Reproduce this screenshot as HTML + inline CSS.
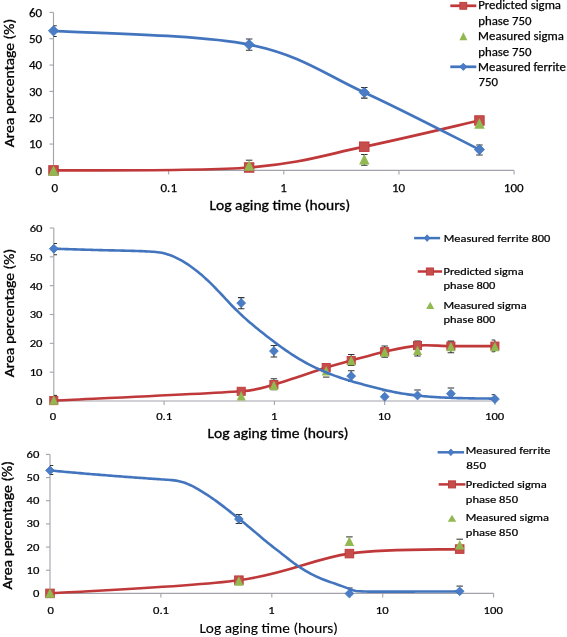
<!DOCTYPE html>
<html><head><meta charset="utf-8"><title>Area percentage vs log aging time</title>
<style>html,body{margin:0;padding:0;background:#fff;}svg{display:block;}</style></head>
<body>
<svg width="567" height="637" viewBox="0 0 567 637" font-family="Carlito, 'Liberation Sans', sans-serif" fill="#000">
<rect width="567" height="637" fill="#fff"/>
<path d="M53.50,12.40 V170.40 H514.10" stroke="#a2a2ac" stroke-width="1.1" fill="none"/>
<path d="M49.50,170.40 H53.50" stroke="#a2a2ac" stroke-width="1.1"/>
<text x="35.56" y="174.62" font-size="13" textLength="6.59" lengthAdjust="spacingAndGlyphs" stroke="#000" stroke-width="0.25">0</text>
<path d="M49.50,144.07 H53.50" stroke="#a2a2ac" stroke-width="1.1"/>
<text x="28.93" y="148.29" font-size="13" textLength="13.18" lengthAdjust="spacingAndGlyphs" stroke="#000" stroke-width="0.25">10</text>
<path d="M49.50,117.73 H53.50" stroke="#a2a2ac" stroke-width="1.1"/>
<text x="28.93" y="121.96" font-size="13" textLength="13.18" lengthAdjust="spacingAndGlyphs" stroke="#000" stroke-width="0.25">20</text>
<path d="M49.50,91.40 H53.50" stroke="#a2a2ac" stroke-width="1.1"/>
<text x="28.93" y="95.62" font-size="13" textLength="13.18" lengthAdjust="spacingAndGlyphs" stroke="#000" stroke-width="0.25">30</text>
<path d="M49.50,65.07 H53.50" stroke="#a2a2ac" stroke-width="1.1"/>
<text x="28.93" y="69.29" font-size="13" textLength="13.18" lengthAdjust="spacingAndGlyphs" stroke="#000" stroke-width="0.25">40</text>
<path d="M49.50,38.73 H53.50" stroke="#a2a2ac" stroke-width="1.1"/>
<text x="28.93" y="42.96" font-size="13" textLength="13.18" lengthAdjust="spacingAndGlyphs" stroke="#000" stroke-width="0.25">50</text>
<path d="M49.50,12.40 H53.50" stroke="#a2a2ac" stroke-width="1.1"/>
<text x="28.93" y="16.63" font-size="13" textLength="13.18" lengthAdjust="spacingAndGlyphs" stroke="#000" stroke-width="0.25">60</text>
<path d="M53.50,170.40 V174.40" stroke="#a2a2ac" stroke-width="1.1"/>
<text x="51.48" y="191.60" font-size="13" textLength="6.59" lengthAdjust="spacingAndGlyphs" stroke="#000" stroke-width="0.25">0</text>
<path d="M168.65,170.40 V174.40" stroke="#a2a2ac" stroke-width="1.1"/>
<text x="160.53" y="191.60" font-size="13" textLength="16.46" lengthAdjust="spacingAndGlyphs" stroke="#000" stroke-width="0.25">0.1</text>
<path d="M283.80,170.40 V174.40" stroke="#a2a2ac" stroke-width="1.1"/>
<text x="280.23" y="191.60" font-size="13" textLength="6.59" lengthAdjust="spacingAndGlyphs" stroke="#000" stroke-width="0.25">1</text>
<path d="M398.95,170.40 V174.40" stroke="#a2a2ac" stroke-width="1.1"/>
<text x="391.93" y="191.60" font-size="13" textLength="13.18" lengthAdjust="spacingAndGlyphs" stroke="#000" stroke-width="0.25">10</text>
<path d="M514.10,170.40 V174.40" stroke="#a2a2ac" stroke-width="1.1"/>
<text x="503.83" y="191.60" font-size="13" textLength="19.77" lengthAdjust="spacingAndGlyphs" stroke="#000" stroke-width="0.25">100</text>
<text x="209.41" y="209.50" font-size="15" textLength="140.72" lengthAdjust="spacingAndGlyphs" stroke="#000" stroke-width="0.3">Log aging time (hours)</text>
<text transform="translate(14.30,147.16) rotate(-90)" x="0" y="0" font-size="15" textLength="128.30" lengthAdjust="spacingAndGlyphs" stroke="#000" stroke-width="0.3">Area percentage (%)</text>
<path d="M53.50,170.40 C86.11,169.92 197.34,171.45 249.14,167.50 C300.93,163.55 325.90,154.53 364.29,146.70 C402.67,138.87 460.24,124.87 479.44,120.50" stroke="#c0393a" stroke-width="2.75" fill="none"/>
<path d="M53.50,25.70 H56.75 M53.50,36.50 H56.75 " stroke="#333" stroke-width="1.05" fill="none"/>
<path d="M245.89,39.00 H252.39 M245.89,50.30 H252.39 M249.14,39.00 V50.30" stroke="#333" stroke-width="1.05" fill="none"/>
<path d="M361.04,87.50 H367.54 M361.04,98.10 H367.54 M364.29,87.50 V98.10" stroke="#333" stroke-width="1.05" fill="none"/>
<path d="M476.19,144.90 H482.69 M476.19,155.00 H482.69 M479.44,144.90 V155.00" stroke="#333" stroke-width="1.05" fill="none"/>
<path d="M245.89,160.20 H252.39 " stroke="#333" stroke-width="1.05" fill="none"/>
<path d="M361.04,154.40 H367.54 M361.04,165.30 H367.54 M364.29,154.40 V165.30" stroke="#333" stroke-width="1.05" fill="none"/>
<rect x="48.75" y="165.65" width="9.50" height="9.50" fill="#c74d4c" stroke="#bd3a3a" stroke-width="0.9"/>
<rect x="244.39" y="162.75" width="9.50" height="9.50" fill="#c74d4c" stroke="#bd3a3a" stroke-width="0.9"/>
<rect x="359.54" y="141.95" width="9.50" height="9.50" fill="#c74d4c" stroke="#bd3a3a" stroke-width="0.9"/>
<rect x="474.69" y="115.75" width="9.50" height="9.50" fill="#c74d4c" stroke="#bd3a3a" stroke-width="0.9"/>
<path d="M48.25,175.65 L53.50,165.15 L58.75,175.65Z" fill="#92b94f"/>
<path d="M243.89,170.65 L249.14,160.15 L254.39,170.65Z" fill="#92b94f"/>
<path d="M359.04,164.59 L364.29,154.09 L369.54,164.59Z" fill="#92b94f"/>
<path d="M474.19,128.78 L479.44,118.28 L484.69,128.78Z" fill="#92b94f"/>
<path d="M53.50,30.83 C86.11,33.12 197.34,34.26 249.14,44.53 C300.93,54.80 325.90,74.94 364.29,92.45 C402.67,109.97 460.24,140.07 479.44,149.60" stroke="#4375bf" stroke-width="2.75" fill="none"/>
<path d="M48.40,30.83 L53.50,25.73 L58.60,30.83 L53.50,35.93Z" fill="#4a7dc5" stroke="#3f71bd" stroke-width="0.8" stroke-linejoin="miter"/>
<path d="M244.04,44.53 L249.14,39.43 L254.24,44.53 L249.14,49.63Z" fill="#4a7dc5" stroke="#3f71bd" stroke-width="0.8" stroke-linejoin="miter"/>
<path d="M359.19,92.45 L364.29,87.35 L369.39,92.45 L364.29,97.55Z" fill="#4a7dc5" stroke="#3f71bd" stroke-width="0.8" stroke-linejoin="miter"/>
<path d="M474.34,149.60 L479.44,144.50 L484.54,149.60 L479.44,154.70Z" fill="#4a7dc5" stroke="#3f71bd" stroke-width="0.8" stroke-linejoin="miter"/>
<path d="M450.30,5.80 H476.30" stroke="#c0393a" stroke-width="2.75"/>
<rect x="459.85" y="2.35" width="6.90" height="6.90" fill="#c74d4c" stroke="#bd3a3a" stroke-width="0.9"/>
<path d="M459.40,40.20 L463.40,32.20 L467.40,40.20Z" fill="#92b94f"/>
<path d="M450.30,66.80 H476.30" stroke="#4375bf" stroke-width="2.75"/>
<path d="M459.70,66.80 L463.30,63.20 L466.90,66.80 L463.30,70.40Z" fill="#4a7dc5" stroke="#3f71bd" stroke-width="0.8" stroke-linejoin="miter"/>
<text x="478.20" y="9.30" font-size="12.8" textLength="82.81" lengthAdjust="spacingAndGlyphs" stroke="#000" stroke-width="0.25">Predicted sigma</text>
<text x="478.20" y="24.60" font-size="12.8" textLength="53.31" lengthAdjust="spacingAndGlyphs" stroke="#000" stroke-width="0.25">phase 750</text>
<text x="478.08" y="40.20" font-size="12.8" textLength="85.78" lengthAdjust="spacingAndGlyphs" stroke="#000" stroke-width="0.25">Measured sigma</text>
<text x="478.20" y="55.50" font-size="12.8" textLength="53.31" lengthAdjust="spacingAndGlyphs" stroke="#000" stroke-width="0.25">phase 750</text>
<text x="478.08" y="70.90" font-size="12.8" textLength="87.79" lengthAdjust="spacingAndGlyphs" stroke="#000" stroke-width="0.25">Measured ferrite</text>
<text x="478.46" y="86.20" font-size="12.8" textLength="19.46" lengthAdjust="spacingAndGlyphs" stroke="#000" stroke-width="0.25">750</text>
<path d="M53.80,228.00 V401.00 H495.00" stroke="#a2a2ac" stroke-width="1.1" fill="none"/>
<path d="M49.80,401.00 H53.80" stroke="#a2a2ac" stroke-width="1.1"/>
<text x="36.13" y="404.91" font-size="10.8" textLength="6.40" lengthAdjust="spacingAndGlyphs" stroke="#000" stroke-width="0.22">0</text>
<path d="M49.80,372.17 H53.80" stroke="#a2a2ac" stroke-width="1.1"/>
<text x="29.69" y="376.08" font-size="10.8" textLength="12.81" lengthAdjust="spacingAndGlyphs" stroke="#000" stroke-width="0.22">10</text>
<path d="M49.80,343.33 H53.80" stroke="#a2a2ac" stroke-width="1.1"/>
<text x="29.69" y="347.24" font-size="10.8" textLength="12.81" lengthAdjust="spacingAndGlyphs" stroke="#000" stroke-width="0.22">20</text>
<path d="M49.80,314.50 H53.80" stroke="#a2a2ac" stroke-width="1.1"/>
<text x="29.69" y="318.41" font-size="10.8" textLength="12.81" lengthAdjust="spacingAndGlyphs" stroke="#000" stroke-width="0.22">30</text>
<path d="M49.80,285.67 H53.80" stroke="#a2a2ac" stroke-width="1.1"/>
<text x="29.69" y="289.58" font-size="10.8" textLength="12.81" lengthAdjust="spacingAndGlyphs" stroke="#000" stroke-width="0.22">40</text>
<path d="M49.80,256.83 H53.80" stroke="#a2a2ac" stroke-width="1.1"/>
<text x="29.69" y="260.74" font-size="10.8" textLength="12.81" lengthAdjust="spacingAndGlyphs" stroke="#000" stroke-width="0.22">50</text>
<path d="M49.80,228.00 H53.80" stroke="#a2a2ac" stroke-width="1.1"/>
<text x="29.69" y="231.91" font-size="10.8" textLength="12.81" lengthAdjust="spacingAndGlyphs" stroke="#000" stroke-width="0.22">60</text>
<path d="M53.80,401.00 V405.00" stroke="#a2a2ac" stroke-width="1.1"/>
<text x="49.88" y="419.80" font-size="10.8" textLength="6.40" lengthAdjust="spacingAndGlyphs" stroke="#000" stroke-width="0.22">0</text>
<path d="M164.10,401.00 V405.00" stroke="#a2a2ac" stroke-width="1.1"/>
<text x="156.20" y="419.80" font-size="10.8" textLength="16.00" lengthAdjust="spacingAndGlyphs" stroke="#000" stroke-width="0.22">0.1</text>
<path d="M274.40,401.00 V405.00" stroke="#a2a2ac" stroke-width="1.1"/>
<text x="270.93" y="419.80" font-size="10.8" textLength="6.40" lengthAdjust="spacingAndGlyphs" stroke="#000" stroke-width="0.22">1</text>
<path d="M384.70,401.00 V405.00" stroke="#a2a2ac" stroke-width="1.1"/>
<text x="377.88" y="419.80" font-size="10.8" textLength="12.81" lengthAdjust="spacingAndGlyphs" stroke="#000" stroke-width="0.22">10</text>
<path d="M495.00,401.00 V405.00" stroke="#a2a2ac" stroke-width="1.1"/>
<text x="485.02" y="419.80" font-size="10.8" textLength="19.21" lengthAdjust="spacingAndGlyphs" stroke="#000" stroke-width="0.22">100</text>
<text x="207.51" y="438.00" font-size="15" textLength="141.03" lengthAdjust="spacingAndGlyphs" stroke="#000" stroke-width="0.3">Log aging time (hours)</text>
<text transform="translate(14.20,377.16) rotate(-90)" x="0" y="0" font-size="15" textLength="128.30" lengthAdjust="spacingAndGlyphs" stroke="#000" stroke-width="0.3">Area percentage (%)</text>
<path d="M53.80,400.60 C85.03,399.05 204.52,393.97 241.20,391.30 C257.55,390.11 259.73,388.55 273.90,384.60 C288.07,380.65 313.32,371.60 326.20,367.60 C338.70,363.72 341.45,363.25 351.20,360.60 C360.95,357.95 373.65,354.20 384.70,351.70 C395.75,349.20 406.47,346.53 417.50,345.60 C428.53,344.67 438.00,346.02 450.90,346.10 C463.80,346.18 487.57,346.10 494.90,346.10" stroke="#c0393a" stroke-width="2.6" fill="none"/>
<path d="M53.80,243.40 H57.05 M53.80,254.80 H57.05 " stroke="#333" stroke-width="1.05" fill="none"/>
<path d="M53.80,395.40 H57.05 " stroke="#333" stroke-width="1.05" fill="none"/>
<path d="M237.95,297.60 H244.45 M237.95,308.80 H244.45 M241.20,297.60 V308.80" stroke="#333" stroke-width="1.05" fill="none"/>
<path d="M270.65,345.40 H277.15 M270.65,357.00 H277.15 M273.90,345.40 V357.00" stroke="#333" stroke-width="1.05" fill="none"/>
<path d="M270.65,378.80 H277.15 M270.65,389.80 H277.15 M273.90,378.80 V389.80" stroke="#333" stroke-width="1.05" fill="none"/>
<path d="M322.95,377.10 H329.45 " stroke="#333" stroke-width="1.05" fill="none"/>
<path d="M347.95,354.50 H354.45 M347.95,365.50 H354.45 M351.20,354.50 V365.50" stroke="#333" stroke-width="1.05" fill="none"/>
<path d="M347.95,370.80 H354.45 M347.95,381.40 H354.45 M351.20,370.80 V381.40" stroke="#333" stroke-width="1.05" fill="none"/>
<path d="M381.45,346.00 H387.95 M381.45,357.20 H387.95 M384.70,346.00 V357.20" stroke="#333" stroke-width="1.05" fill="none"/>
<path d="M414.25,341.00 H420.75 M414.25,355.90 H420.75 M417.50,341.00 V355.90" stroke="#333" stroke-width="1.05" fill="none"/>
<path d="M414.25,390.00 H420.75 " stroke="#333" stroke-width="1.05" fill="none"/>
<path d="M382.20,390.80 H387.20 " stroke="#333" stroke-width="1.05" fill="none"/>
<path d="M447.65,341.10 H454.15 M447.65,352.70 H454.15 M450.90,341.10 V352.70" stroke="#333" stroke-width="1.05" fill="none"/>
<path d="M447.65,388.00 H454.15 " stroke="#333" stroke-width="1.05" fill="none"/>
<path d="M491.65,339.90 H494.90 M491.65,351.80 H494.90 M494.90,339.90 V351.80" stroke="#333" stroke-width="1.05" fill="none"/>
<path d="M491.65,394.70 H494.90 " stroke="#333" stroke-width="1.05" fill="none"/>
<rect x="49.75" y="396.55" width="8.10" height="8.10" fill="#c74d4c" stroke="#bd3a3a" stroke-width="0.9"/>
<rect x="237.15" y="387.25" width="8.10" height="8.10" fill="#c74d4c" stroke="#bd3a3a" stroke-width="0.9"/>
<rect x="269.85" y="380.55" width="8.10" height="8.10" fill="#c74d4c" stroke="#bd3a3a" stroke-width="0.9"/>
<rect x="322.15" y="363.55" width="8.10" height="8.10" fill="#c74d4c" stroke="#bd3a3a" stroke-width="0.9"/>
<rect x="347.15" y="356.55" width="8.10" height="8.10" fill="#c74d4c" stroke="#bd3a3a" stroke-width="0.9"/>
<rect x="380.65" y="347.65" width="8.10" height="8.10" fill="#c74d4c" stroke="#bd3a3a" stroke-width="0.9"/>
<rect x="413.45" y="341.55" width="8.10" height="8.10" fill="#c74d4c" stroke="#bd3a3a" stroke-width="0.9"/>
<rect x="446.85" y="342.05" width="8.10" height="8.10" fill="#c74d4c" stroke="#bd3a3a" stroke-width="0.9"/>
<rect x="490.85" y="342.05" width="8.10" height="8.10" fill="#c74d4c" stroke="#bd3a3a" stroke-width="0.9"/>
<path d="M49.30,404.75 L53.80,395.25 L58.30,404.75Z" fill="#92b94f"/>
<path d="M236.70,400.45 L241.20,390.95 L245.70,400.45Z" fill="#92b94f"/>
<path d="M269.40,389.95 L273.90,380.45 L278.40,389.95Z" fill="#92b94f"/>
<path d="M321.70,375.55 L326.20,366.05 L330.70,375.55Z" fill="#92b94f"/>
<path d="M346.70,365.35 L351.20,355.85 L355.70,365.35Z" fill="#92b94f"/>
<path d="M380.20,356.75 L384.70,347.25 L389.20,356.75Z" fill="#92b94f"/>
<path d="M413.00,354.95 L417.50,345.45 L422.00,354.95Z" fill="#92b94f"/>
<path d="M446.40,351.25 L450.90,341.75 L455.40,351.25Z" fill="#92b94f"/>
<path d="M490.40,351.25 L494.90,341.75 L499.40,351.25Z" fill="#92b94f"/>
<path d="M53.8,248.70 L55.8,248.77 L57.8,248.83 L59.8,248.90 L61.8,248.96 L63.8,249.03 L65.8,249.09 L67.8,249.15 L69.8,249.22 L71.8,249.28 L73.8,249.34 L75.8,249.40 L77.8,249.46 L79.8,249.52 L81.8,249.58 L83.8,249.64 L85.8,249.70 L87.8,249.76 L89.8,249.81 L91.8,249.87 L93.8,249.93 L95.8,249.98 L97.8,250.04 L99.8,250.09 L101.8,250.15 L103.8,250.20 L105.8,250.25 L107.8,250.29 L109.8,250.34 L111.8,250.38 L113.8,250.42 L115.8,250.46 L117.8,250.50 L119.8,250.55 L121.8,250.59 L123.8,250.63 L125.8,250.68 L127.8,250.73 L129.8,250.78 L131.8,250.83 L133.8,250.89 L135.8,250.95 L137.8,251.02 L139.8,251.09 L141.8,251.17 L143.8,251.25 L145.8,251.34 L147.8,251.44 L149.8,251.55 L151.8,251.68 L153.8,251.82 L155.8,251.99 L157.8,252.18 L159.8,252.44 L161.8,252.81 L163.8,253.29 L165.8,253.83 L167.8,254.43 L169.8,255.06 L171.8,255.78 L173.8,256.62 L175.8,257.55 L177.8,258.56 L179.8,259.62 L181.8,260.72 L183.8,261.86 L185.8,263.09 L187.8,264.41 L189.8,265.79 L191.8,267.22 L193.8,268.70 L195.8,270.21 L197.8,271.78 L199.8,273.42 L201.8,275.11 L203.8,276.86 L205.8,278.66 L207.8,280.49 L209.8,282.39 L211.8,284.37 L213.8,286.41 L215.8,288.49 L217.8,290.58 L219.8,292.68 L221.8,294.77 L223.8,296.91 L225.8,299.07 L227.8,301.24 L229.8,303.38 L231.8,305.48 L233.8,307.50 L235.8,309.49 L237.8,311.44 L239.8,313.36 L241.8,315.24 L243.8,317.09 L245.8,318.90 L247.8,320.67 L249.8,322.39 L251.8,324.08 L253.8,325.75 L255.8,327.40 L257.8,329.03 L259.8,330.65 L261.8,332.26 L263.8,333.85 L265.8,335.43 L267.8,336.98 L269.8,338.53 L271.8,340.06 L273.8,341.58 L275.8,343.09 L277.8,344.59 L279.8,346.06 L281.8,347.51 L283.8,348.93 L285.8,350.32 L287.8,351.69 L289.8,353.04 L291.8,354.36 L293.8,355.65 L295.8,356.91 L297.8,358.13 L299.8,359.32 L301.8,360.49 L303.8,361.63 L305.8,362.74 L307.8,363.82 L309.8,364.86 L311.8,365.87 L313.8,366.85 L315.8,367.80 L317.8,368.73 L319.8,369.63 L321.8,370.51 L323.8,371.37 L325.8,372.21 L327.8,373.03 L329.8,373.83 L331.8,374.61 L333.8,375.37 L335.8,376.10 L337.8,376.82 L339.8,377.51 L341.8,378.19 L343.8,378.86 L345.8,379.50 L347.8,380.12 L349.8,380.73 L351.8,381.31 L353.8,381.88 L355.8,382.44 L357.8,382.99 L359.8,383.54 L361.8,384.10 L363.8,384.64 L365.8,385.18 L367.8,385.72 L369.8,386.25 L371.8,386.77 L373.8,387.29 L375.8,387.81 L377.8,388.32 L379.8,388.82 L381.8,389.32 L383.8,389.79 L385.8,390.25 L387.8,390.70 L389.8,391.14 L391.8,391.57 L393.8,391.98 L395.8,392.38 L397.8,392.75 L399.8,393.10 L401.8,393.45 L403.8,393.77 L405.8,394.09 L407.8,394.38 L409.8,394.65 L411.8,394.91 L413.8,395.16 L415.8,395.39 L417.8,395.61 L419.8,395.81 L421.8,396.01 L423.8,396.20 L425.8,396.38 L427.8,396.55 L429.8,396.71 L431.8,396.85 L433.8,396.98 L435.8,397.10 L437.8,397.21 L439.8,397.33 L441.8,397.43 L443.8,397.54 L445.8,397.63 L447.8,397.73 L449.8,397.81 L451.8,397.89 L453.8,397.96 L455.8,398.02 L457.8,398.08 L459.8,398.12 L461.8,398.16 L463.8,398.21 L465.8,398.25 L467.8,398.29 L469.8,398.33 L471.8,398.36 L473.8,398.40 L475.8,398.43 L477.8,398.46 L479.8,398.49 L481.8,398.52 L483.8,398.54 L485.8,398.56 L487.8,398.57 L489.8,398.59 L491.8,398.59 L493.8,398.60 L494.9,398.60" stroke="#4375bf" stroke-width="2.6" fill="none"/>
<path d="M49.40,248.70 L53.80,244.20 L58.20,248.70 L53.80,253.20Z" fill="#4a7dc5" stroke="#3f71bd" stroke-width="0.8" stroke-linejoin="miter"/>
<path d="M236.80,303.10 L241.20,298.60 L245.60,303.10 L241.20,307.60Z" fill="#4a7dc5" stroke="#3f71bd" stroke-width="0.8" stroke-linejoin="miter"/>
<path d="M269.50,351.10 L273.90,346.60 L278.30,351.10 L273.90,355.60Z" fill="#4a7dc5" stroke="#3f71bd" stroke-width="0.8" stroke-linejoin="miter"/>
<path d="M346.80,376.10 L351.20,371.60 L355.60,376.10 L351.20,380.60Z" fill="#4a7dc5" stroke="#3f71bd" stroke-width="0.8" stroke-linejoin="miter"/>
<path d="M380.30,396.70 L384.70,392.20 L389.10,396.70 L384.70,401.20Z" fill="#4a7dc5" stroke="#3f71bd" stroke-width="0.8" stroke-linejoin="miter"/>
<path d="M413.10,395.40 L417.50,390.90 L421.90,395.40 L417.50,399.90Z" fill="#4a7dc5" stroke="#3f71bd" stroke-width="0.8" stroke-linejoin="miter"/>
<path d="M446.50,393.70 L450.90,389.20 L455.30,393.70 L450.90,398.20Z" fill="#4a7dc5" stroke="#3f71bd" stroke-width="0.8" stroke-linejoin="miter"/>
<path d="M490.50,399.10 L494.90,394.60 L499.30,399.10 L494.90,403.60Z" fill="#4a7dc5" stroke="#3f71bd" stroke-width="0.8" stroke-linejoin="miter"/>
<path d="M414.10,238.10 H440.10" stroke="#4375bf" stroke-width="2.5"/>
<path d="M424.25,238.10 L427.10,234.75 L429.95,238.10 L427.10,241.45Z" fill="#4a7dc5" stroke="#3f71bd" stroke-width="0.8" stroke-linejoin="miter"/>
<path d="M417.70,271.50 H442.10" stroke="#c0393a" stroke-width="2.5"/>
<rect x="426.35" y="267.95" width="7.10" height="7.10" fill="#c74d4c" stroke="#bd3a3a" stroke-width="0.9"/>
<path d="M426.20,309.00 L430.20,301.80 L434.20,309.00Z" fill="#92b94f"/>
<text x="443.71" y="241.90" font-size="11" textLength="106.61" lengthAdjust="spacingAndGlyphs" stroke="#000" stroke-width="0.22">Measured ferrite 800</text>
<text x="443.53" y="275.00" font-size="11" textLength="80.11" lengthAdjust="spacingAndGlyphs" stroke="#000" stroke-width="0.22">Predicted sigma</text>
<text x="443.53" y="289.10" font-size="11" textLength="51.78" lengthAdjust="spacingAndGlyphs" stroke="#000" stroke-width="0.22">phase 800</text>
<text x="443.41" y="309.00" font-size="11" textLength="83.26" lengthAdjust="spacingAndGlyphs" stroke="#000" stroke-width="0.22">Measured sigma</text>
<text x="443.53" y="323.10" font-size="11" textLength="51.78" lengthAdjust="spacingAndGlyphs" stroke="#000" stroke-width="0.22">phase 800</text>
<path d="M50.00,454.40 V593.40 H493.60" stroke="#a2a2ac" stroke-width="1.1" fill="none"/>
<path d="M46.00,593.40 H50.00" stroke="#a2a2ac" stroke-width="1.1"/>
<text x="33.03" y="596.91" font-size="10.8" textLength="6.40" lengthAdjust="spacingAndGlyphs" stroke="#000" stroke-width="0.22">0</text>
<path d="M46.00,570.23 H50.00" stroke="#a2a2ac" stroke-width="1.1"/>
<text x="26.59" y="573.74" font-size="10.8" textLength="12.81" lengthAdjust="spacingAndGlyphs" stroke="#000" stroke-width="0.22">10</text>
<path d="M46.00,547.07 H50.00" stroke="#a2a2ac" stroke-width="1.1"/>
<text x="26.59" y="550.58" font-size="10.8" textLength="12.81" lengthAdjust="spacingAndGlyphs" stroke="#000" stroke-width="0.22">20</text>
<path d="M46.00,523.90 H50.00" stroke="#a2a2ac" stroke-width="1.1"/>
<text x="26.59" y="527.41" font-size="10.8" textLength="12.81" lengthAdjust="spacingAndGlyphs" stroke="#000" stroke-width="0.22">30</text>
<path d="M46.00,500.73 H50.00" stroke="#a2a2ac" stroke-width="1.1"/>
<text x="26.59" y="504.24" font-size="10.8" textLength="12.81" lengthAdjust="spacingAndGlyphs" stroke="#000" stroke-width="0.22">40</text>
<path d="M46.00,477.57 H50.00" stroke="#a2a2ac" stroke-width="1.1"/>
<text x="26.59" y="481.08" font-size="10.8" textLength="12.81" lengthAdjust="spacingAndGlyphs" stroke="#000" stroke-width="0.22">50</text>
<path d="M46.00,454.40 H50.00" stroke="#a2a2ac" stroke-width="1.1"/>
<text x="26.59" y="457.91" font-size="10.8" textLength="12.81" lengthAdjust="spacingAndGlyphs" stroke="#000" stroke-width="0.22">60</text>
<path d="M50.00,593.40 V597.40" stroke="#a2a2ac" stroke-width="1.1"/>
<text x="47.58" y="613.80" font-size="10.8" textLength="6.40" lengthAdjust="spacingAndGlyphs" stroke="#000" stroke-width="0.22">0</text>
<path d="M160.90,593.40 V597.40" stroke="#a2a2ac" stroke-width="1.1"/>
<text x="153.00" y="613.80" font-size="10.8" textLength="16.00" lengthAdjust="spacingAndGlyphs" stroke="#000" stroke-width="0.22">0.1</text>
<path d="M271.80,593.40 V597.40" stroke="#a2a2ac" stroke-width="1.1"/>
<text x="268.33" y="613.80" font-size="10.8" textLength="6.40" lengthAdjust="spacingAndGlyphs" stroke="#000" stroke-width="0.22">1</text>
<path d="M382.70,593.40 V597.40" stroke="#a2a2ac" stroke-width="1.1"/>
<text x="375.88" y="613.80" font-size="10.8" textLength="12.81" lengthAdjust="spacingAndGlyphs" stroke="#000" stroke-width="0.22">10</text>
<path d="M493.60,593.40 V597.40" stroke="#a2a2ac" stroke-width="1.1"/>
<text x="483.62" y="613.80" font-size="10.8" textLength="19.21" lengthAdjust="spacingAndGlyphs" stroke="#000" stroke-width="0.22">100</text>
<text x="199.43" y="633.40" font-size="15" textLength="138.59" lengthAdjust="spacingAndGlyphs" stroke="#000" stroke-width="0.12">Log aging time (hours)</text>
<text transform="translate(12.20,589.46) rotate(-90)" x="0" y="0" font-size="15" textLength="128.50" lengthAdjust="spacingAndGlyphs" stroke="#000" stroke-width="0.35">Area percentage (%)</text>
<path d="M50.00,593.40 C81.48,591.20 189.00,586.83 238.90,580.20 C288.80,573.57 312.60,558.78 349.40,553.60 C386.20,548.42 441.32,549.85 459.70,549.10" stroke="#c0393a" stroke-width="2.6" fill="none"/>
<path d="M50.00,465.40 H53.25 M50.00,474.40 H53.25 " stroke="#333" stroke-width="1.05" fill="none"/>
<path d="M235.65,514.40 H242.15 M235.65,523.50 H242.15 M238.90,514.40 V523.50" stroke="#333" stroke-width="1.05" fill="none"/>
<path d="M346.15,536.90 H352.65 " stroke="#333" stroke-width="1.05" fill="none"/>
<path d="M456.45,539.20 H462.95 " stroke="#333" stroke-width="1.05" fill="none"/>
<path d="M346.15,588.00 H352.65 " stroke="#333" stroke-width="1.05" fill="none"/>
<path d="M456.45,586.10 H462.95 " stroke="#333" stroke-width="1.05" fill="none"/>
<rect x="45.70" y="589.10" width="8.60" height="8.60" fill="#c74d4c" stroke="#bd3a3a" stroke-width="0.9"/>
<rect x="234.60" y="575.90" width="8.60" height="8.60" fill="#c74d4c" stroke="#bd3a3a" stroke-width="0.9"/>
<rect x="345.10" y="549.30" width="8.60" height="8.60" fill="#c74d4c" stroke="#bd3a3a" stroke-width="0.9"/>
<rect x="455.40" y="544.80" width="8.60" height="8.60" fill="#c74d4c" stroke="#bd3a3a" stroke-width="0.9"/>
<path d="M45.25,597.75 L50.00,588.25 L54.75,597.75Z" fill="#92b94f"/>
<path d="M234.15,585.75 L238.90,576.25 L243.65,585.75Z" fill="#92b94f"/>
<path d="M344.65,545.95 L349.40,536.45 L354.15,545.95Z" fill="#92b94f"/>
<path d="M454.95,549.55 L459.70,540.05 L464.45,549.55Z" fill="#92b94f"/>
<path d="M50.0,470.40 L52.0,470.60 L54.0,470.79 L56.0,470.99 L58.0,471.18 L60.0,471.37 L62.0,471.56 L64.0,471.75 L66.0,471.94 L68.0,472.12 L70.0,472.30 L72.0,472.48 L74.0,472.65 L76.0,472.83 L78.0,473.00 L80.0,473.17 L82.0,473.34 L84.0,473.51 L86.0,473.68 L88.0,473.85 L90.0,474.02 L92.0,474.18 L94.0,474.34 L96.0,474.51 L98.0,474.67 L100.0,474.83 L102.0,474.99 L104.0,475.15 L106.0,475.31 L108.0,475.47 L110.0,475.62 L112.0,475.78 L114.0,475.94 L116.0,476.09 L118.0,476.25 L120.0,476.40 L122.0,476.55 L124.0,476.70 L126.0,476.85 L128.0,477.00 L130.0,477.15 L132.0,477.30 L134.0,477.44 L136.0,477.59 L138.0,477.73 L140.0,477.88 L142.0,478.02 L144.0,478.16 L146.0,478.30 L148.0,478.45 L150.0,478.59 L152.0,478.73 L154.0,478.87 L156.0,479.01 L158.0,479.16 L160.0,479.30 L162.0,479.43 L164.0,479.56 L166.0,479.68 L168.0,479.81 L170.0,479.95 L172.0,480.13 L174.0,480.35 L176.0,480.64 L178.0,481.00 L180.0,481.42 L182.0,481.91 L184.0,482.53 L186.0,483.28 L188.0,484.12 L190.0,485.02 L192.0,485.94 L194.0,486.94 L196.0,488.04 L198.0,489.20 L200.0,490.40 L202.0,491.62 L204.0,492.84 L206.0,494.10 L208.0,495.40 L210.0,496.73 L212.0,498.08 L214.0,499.47 L216.0,500.89 L218.0,502.36 L220.0,503.85 L222.0,505.36 L224.0,506.88 L226.0,508.44 L228.0,510.02 L230.0,511.62 L232.0,513.22 L234.0,514.82 L236.0,516.41 L238.0,518.00 L240.0,519.60 L242.0,521.21 L244.0,522.83 L246.0,524.47 L248.0,526.13 L250.0,527.81 L252.0,529.50 L254.0,531.19 L256.0,532.88 L258.0,534.59 L260.0,536.31 L262.0,538.02 L264.0,539.71 L266.0,541.36 L268.0,542.97 L270.0,544.56 L272.0,546.12 L274.0,547.67 L276.0,549.22 L278.0,550.77 L280.0,552.34 L282.0,553.92 L284.0,555.50 L286.0,557.06 L288.0,558.61 L290.0,560.16 L292.0,561.70 L294.0,563.21 L296.0,564.65 L298.0,566.02 L300.0,567.34 L302.0,568.60 L304.0,569.83 L306.0,571.01 L308.0,572.16 L310.0,573.27 L312.0,574.34 L314.0,575.35 L316.0,576.31 L318.0,577.23 L320.0,578.10 L322.0,578.94 L324.0,579.73 L326.0,580.48 L328.0,581.19 L330.0,581.90 L332.0,582.61 L334.0,583.31 L336.0,584.01 L338.0,584.71 L340.0,585.42 L342.0,586.15 L344.0,586.89 L346.0,587.65 L348.0,588.40 L350.0,589.22 L352.0,590.01 L354.0,590.54 L356.0,590.96 L358.0,591.20 L360.0,591.32 L362.0,591.41 L364.0,591.49 L366.0,591.55 L368.0,591.59 L370.0,591.60 L372.0,591.60 L374.0,591.60 L376.0,591.60 L378.0,591.60 L380.0,591.60 L382.0,591.60 L384.0,591.60 L386.0,591.60 L388.0,591.60 L390.0,591.60 L392.0,591.60 L394.0,591.60 L396.0,591.60 L398.0,591.59 L400.0,591.59 L402.0,591.59 L404.0,591.59 L406.0,591.59 L408.0,591.58 L410.0,591.58 L412.0,591.58 L414.0,591.58 L416.0,591.57 L418.0,591.57 L420.0,591.57 L422.0,591.56 L424.0,591.56 L426.0,591.55 L428.0,591.55 L430.0,591.54 L432.0,591.53 L434.0,591.53 L436.0,591.52 L438.0,591.51 L440.0,591.50 L442.0,591.50 L444.0,591.49 L446.0,591.48 L448.0,591.47 L450.0,591.46 L452.0,591.45 L454.0,591.44 L456.0,591.42 L458.0,591.41 L459.7,591.40" stroke="#4375bf" stroke-width="2.6" fill="none"/>
<path d="M45.65,470.40 L50.00,466.05 L54.35,470.40 L50.00,474.75Z" fill="#4a7dc5" stroke="#3f71bd" stroke-width="0.8" stroke-linejoin="miter"/>
<path d="M234.55,519.10 L238.90,514.75 L243.25,519.10 L238.90,523.45Z" fill="#4a7dc5" stroke="#3f71bd" stroke-width="0.8" stroke-linejoin="miter"/>
<path d="M345.05,593.60 L349.40,589.25 L353.75,593.60 L349.40,597.95Z" fill="#4a7dc5" stroke="#3f71bd" stroke-width="0.8" stroke-linejoin="miter"/>
<path d="M455.35,591.30 L459.70,586.95 L464.05,591.30 L459.70,595.65Z" fill="#4a7dc5" stroke="#3f71bd" stroke-width="0.8" stroke-linejoin="miter"/>
<path d="M437.60,452.30 H464.10" stroke="#4375bf" stroke-width="2.5"/>
<path d="M448.00,452.30 L450.85,448.95 L453.70,452.30 L450.85,455.65Z" fill="#4a7dc5" stroke="#3f71bd" stroke-width="0.8" stroke-linejoin="miter"/>
<path d="M438.70,484.40 H465.40" stroke="#c0393a" stroke-width="2.5"/>
<rect x="448.50" y="480.85" width="7.10" height="7.10" fill="#c74d4c" stroke="#bd3a3a" stroke-width="0.9"/>
<path d="M447.75,521.70 L452.00,514.70 L456.25,521.70Z" fill="#92b94f"/>
<text x="465.71" y="454.10" font-size="11" textLength="84.67" lengthAdjust="spacingAndGlyphs" stroke="#000" stroke-width="0.22">Measured ferrite</text>
<text x="466.18" y="468.60" font-size="11" textLength="19.82" lengthAdjust="spacingAndGlyphs" stroke="#000" stroke-width="0.22">850</text>
<text x="465.82" y="488.00" font-size="11" textLength="81.03" lengthAdjust="spacingAndGlyphs" stroke="#000" stroke-width="0.22">Predicted sigma</text>
<text x="465.82" y="503.00" font-size="11" textLength="52.29" lengthAdjust="spacingAndGlyphs" stroke="#000" stroke-width="0.22">phase 850</text>
<text x="465.71" y="521.10" font-size="11" textLength="83.26" lengthAdjust="spacingAndGlyphs" stroke="#000" stroke-width="0.22">Measured sigma</text>
<text x="465.82" y="536.10" font-size="11" textLength="52.29" lengthAdjust="spacingAndGlyphs" stroke="#000" stroke-width="0.22">phase 850</text>
</svg>
</body></html>
